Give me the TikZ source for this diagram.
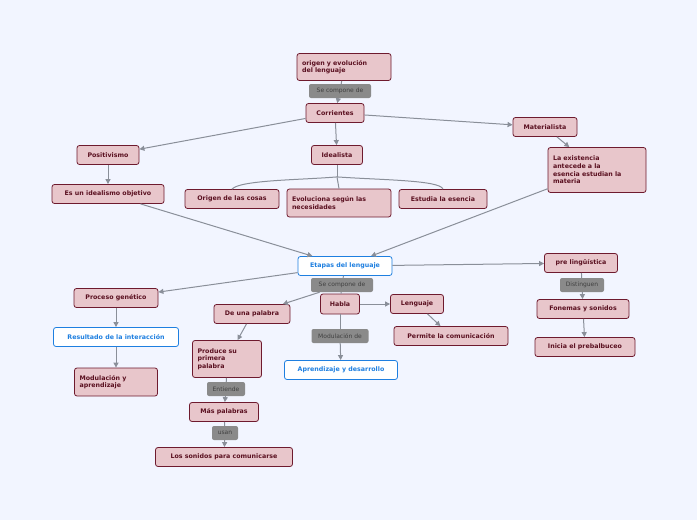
\documentclass[tikz,border=0pt]{standalone}
\usepackage{fontspec}
\setmainfont{DejaVu Sans}
\usetikzlibrary{arrows.meta}
\definecolor{bg}{HTML}{F2F5FF}
\definecolor{pk}{HTML}{E8C6CB}
\definecolor{bd}{HTML}{6E1A2E}
\definecolor{tx}{HTML}{5A1020}
\definecolor{ln}{HTML}{8A8F99}
\definecolor{lb}{HTML}{8A8A8A}
\definecolor{bl}{HTML}{1E7FE0}
\tikzset{
 pnode/.style={draw=bd,fill=pk,rounded corners=2.5pt,line width=0.8pt,text=tx,font=\fontsize{6.3}{7.6}\selectfont\bfseries,inner sep=0pt,minimum height=19pt,align=left},
 bnode/.style={draw=bl,fill=white,rounded corners=2.5pt,line width=0.8pt,text=bl,font=\fontsize{6.3}{7.6}\selectfont\bfseries,inner sep=0pt,minimum height=19pt},
 lbl/.style={fill=lb,rounded corners=2pt,text=black!75,font=\fontsize{6}{7}\selectfont,inner sep=0pt,minimum height=14pt},
 con/.style={draw=ln,line width=1pt},
 arr/.style={con,-{Triangle[length=5pt,width=5pt]}}
}
\begin{document}
\begin{tikzpicture}[x=1pt,y=-1pt]
\fill[bg] (0,0) rectangle (697,520);
\useasboundingbox (0,0) rectangle (697,520);
\node[pnode,minimum width=94pt,minimum height=27pt,text width=84pt] (origen) at (344,67) {origen y evolución\\del lenguaje};
\node[lbl,minimum width=62pt] (sc1) at (340,91) {Se compone de};
\node[pnode,minimum width=58pt,align=center] (corr) at (335,113) {Corrientes};
\node[pnode,minimum width=62pt,align=center] (pos) at (108,155) {Positivismo};
\node[pnode,minimum width=51pt,align=center] (ide) at (337,155) {Idealista};
\node[pnode,minimum width=64pt,align=center] (mat) at (545,127) {Materialista};
\node[pnode,minimum width=98pt,minimum height=45pt,text width=88pt] (exi) at (597,170) {La existencia\\antecede a la\\esencia estudian la\\materia};
\node[pnode,minimum width=112pt,align=center] (esun) at (108,194) {Es un idealismo objetivo};
\node[pnode,minimum width=94pt,align=center] (orig) at (232,199) {Origen de las cosas};
\node[pnode,minimum width=104pt,minimum height=28pt,text width=94pt] (evo) at (339,203) {Evoluciona según las\\necesidades};
\node[pnode,minimum width=88pt,align=center] (est) at (443,199) {Estudia la esencia};
\node[bnode,minimum width=94pt] (eta) at (345,266) {Etapas del lenguaje};
\node[lbl,minimum width=62pt] (sc2) at (342,285) {Se compone de};
\node[pnode,minimum width=73pt,align=center] (pre) at (581,263) {pre lingüística};
\node[lbl,minimum width=44pt] (dis) at (582,285) {Distinguen};
\node[pnode,minimum width=92pt,align=center] (fon) at (583,309) {Fonemas y sonidos};
\node[pnode,minimum width=100pt,align=center] (ini) at (585,347) {Inicia el prebalbuceo};
\node[pnode,minimum width=84pt,align=center] (pro) at (116,298) {Proceso genético};
\node[bnode,minimum width=125pt] (res) at (116,337) {Resultado de la interacción};
\node[pnode,minimum width=83pt,minimum height=28pt,text width=73pt] (mod) at (116,382) {Modulación y\\aprendizaje};
\node[pnode,minimum width=76pt,align=center] (deu) at (252,314) {De una palabra};
\node[pnode,minimum width=39pt,minimum height=20pt,align=center] (hab) at (340,304) {Habla};
\node[pnode,minimum width=53pt,align=center] (len) at (417,304) {Lenguaje};
\node[pnode,minimum width=114pt,align=center] (per) at (451,336) {Permite la comunicación};
\node[lbl,minimum width=57pt] (mdd) at (340,336) {Modulación de};
\node[bnode,minimum width=113pt] (apr) at (341,370) {Aprendizaje y desarrollo};
\node[pnode,minimum width=69pt,minimum height=37pt,text width=59pt] (prod) at (227,359) {Produce su\\primera\\palabra};
\node[lbl,minimum width=38pt] (ent) at (226,389) {Entiende};
\node[pnode,minimum width=69pt,align=center] (mas) at (224,412) {Más palabras};
\node[lbl,minimum width=26pt] (usan) at (225,433) {usan};
\node[pnode,minimum width=137pt,align=center] (son) at (224,457) {Los sonidos para comunicarse};
% connectors
\draw[con] (origen) -- (sc1);
\draw[arr] (sc1) -- (corr);
\draw[arr] (corr) -- (pos);
\draw[arr] (corr) -- (ide);
\draw[arr] (corr) -- (mat);
\draw[arr] (pos) -- (esun);
\draw[arr] (mat) -- (exi);
\draw[con] (ide.south) -- ++(0,12) coordinate (hub);
\draw[con] (hub) .. controls (300,180) and (240,180) .. (orig.north);
\draw[con] (hub) -- (evo.north);
\draw[con] (hub) .. controls (380,180) and (440,180) .. (est.north);
\draw[arr] (esun) -- (eta);
\draw[arr] (exi) -- (eta);
\draw[arr] (eta) -- (pre);
\draw[arr] (eta) -- (pro);
\draw[con] (eta) -- (sc2);
\draw[arr] (sc2) -- (deu);
\draw[con] (sc2) -- (hab);
\draw[arr] (hab) -- (len);
\draw[arr] (len) -- (per);
\draw[con] (hab) -- (mdd);
\draw[arr] (mdd) -- (apr);
\draw[arr] (deu) -- (prod);
\draw[con] (prod) -- (ent);
\draw[arr] (ent) -- (mas);
\draw[con] (mas) -- (usan);
\draw[arr] (usan) -- (son);
\draw[arr] (pro) -- (res);
\draw[arr] (res) -- (mod);
\draw[con] (pre) -- (dis);
\draw[arr] (dis) -- (fon);
\draw[arr] (fon) -- (ini);
\end{tikzpicture}
\end{document}
